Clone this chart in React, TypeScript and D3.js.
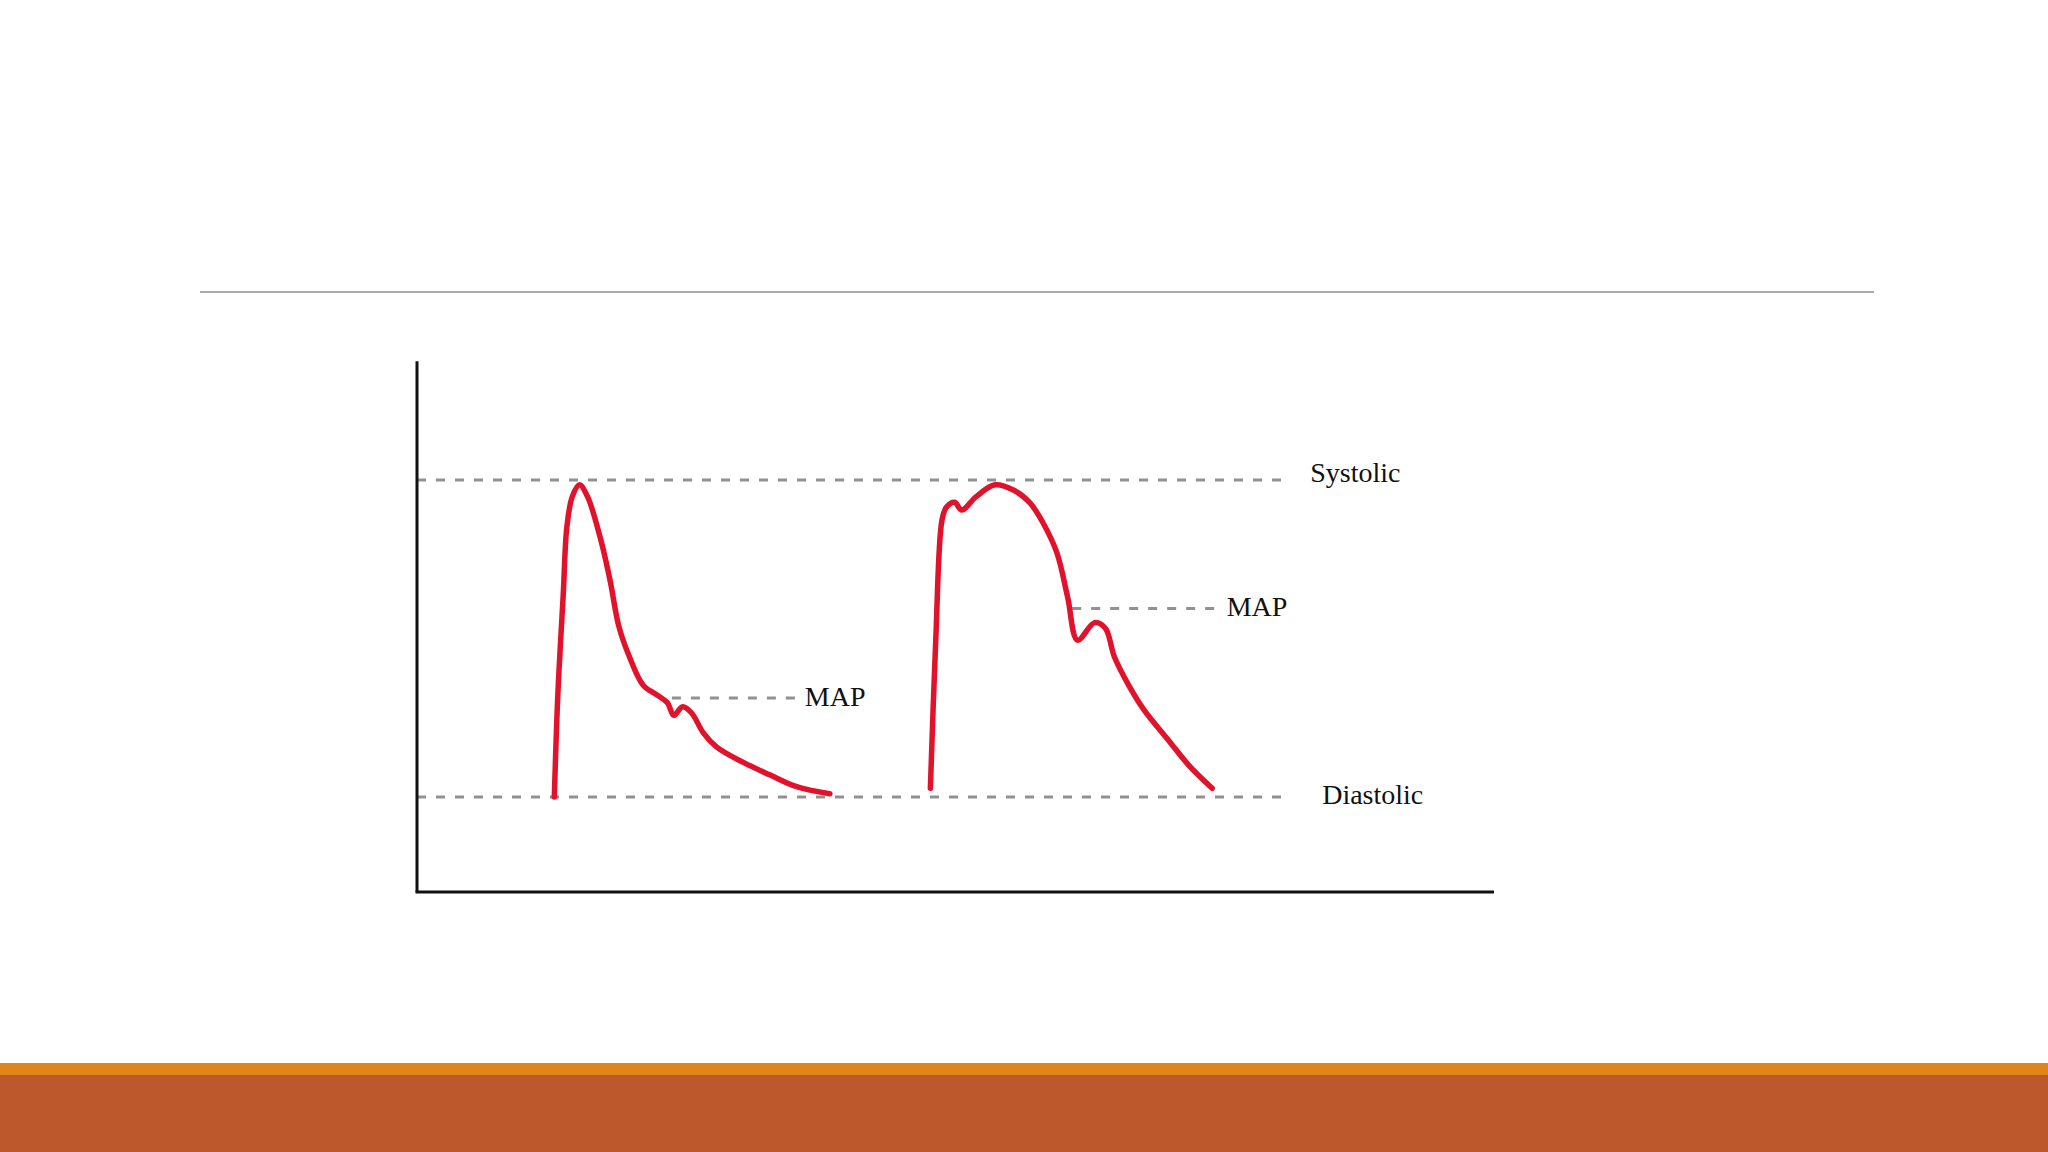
import React from "react";
import * as d3 from "d3";

type TPoint = { t: number; p: number };

// pressure waveforms, time in ms, pressure in mmHg
const pulseNormal: TPoint[] = [
  { t: 153, p: 80 },
  { t: 157, p: 93.1 },
  { t: 163, p: 105.7 },
  { t: 167, p: 114.1 },
  { t: 173, p: 117.9 },
  { t: 181, p: 119.4 },
  { t: 190, p: 117.9 },
  { t: 204, p: 112.8 },
  { t: 215, p: 107.4 },
  { t: 225, p: 101.5 },
  { t: 237, p: 97.6 },
  { t: 252, p: 94.1 },
  { t: 267, p: 92.9 },
  { t: 279, p: 91.9 },
  { t: 286, p: 90.3 },
  { t: 296, p: 91.4 },
  { t: 306, p: 90.6 },
  { t: 319, p: 88.1 },
  { t: 334, p: 86.3 },
  { t: 363, p: 84.4 },
  { t: 393, p: 82.8 },
  { t: 423, p: 81.3 },
  { t: 460, p: 80.4 },
];

const pulseWide: TPoint[] = [
  { t: 572, p: 81.1 },
  { t: 578, p: 99.8 },
  { t: 585, p: 115.0 },
  { t: 590, p: 116.6 },
  { t: 599, p: 117.2 },
  { t: 607, p: 116.2 },
  { t: 623, p: 117.9 },
  { t: 644, p: 119.4 },
  { t: 665, p: 118.7 },
  { t: 683, p: 117.1 },
  { t: 697, p: 114.7 },
  { t: 713, p: 110.8 },
  { t: 725, p: 105.2 },
  { t: 736, p: 99.8 },
  { t: 755, p: 102.0 },
  { t: 767, p: 101.3 },
  { t: 777, p: 97.7 },
  { t: 794, p: 93.9 },
  { t: 810, p: 91.0 },
  { t: 837, p: 87.2 },
  { t: 860, p: 84.0 },
  { t: 886, p: 81.1 },
];

const referenceLabels = ["Systolic", "Diastolic"];
const referenceValues = [120, 80];
const referenceEnds = [973, 964];

const mapLabels = ["MAP", "MAP"];
const mapValues = [92.5, 103.8];
const mapStarts = [284, 730];
const mapEnds = [421, 891];

const timeDomain = [0, 1200];
const pressureDomain = [68, 135];

const width = 2048;
const height = 1152;

const x = d3.scaleLinear().domain(timeDomain).range([417, 1494]);
const y = d3.scaleLinear().domain([80, 120]).range([797, 480]);

const line = d3
  .line<TPoint>()
  .x((d) => x(d.t))
  .y((d) => y(d.p))
  .curve(d3.curveCatmullRom.alpha(0.5));

const dash = "9 10";
const dashColor = "#919191";
const red = "#E1122B";
const font = "'Liberation Serif', 'Times New Roman', serif";

const App = () => {
  return (
    <svg
      width={width}
      height={height}
      style={{ position: "fixed", left: 0, top: 0, background: "#fff" }}
    >
      {/* slide header rule */}
      <line x1={200} x2={1874} y1={292} y2={292} stroke="#ababab" strokeWidth={2} />

      {/* reference lines */}
      {referenceValues.map((v, i) => (
        <g key={referenceLabels[i]}>
          <line
            x1={x(0)}
            x2={x(referenceEnds[i])}
            y1={y(v)}
            y2={y(v)}
            stroke={dashColor}
            strokeWidth={3}
            strokeDasharray={dash}
          />
          <text
            x={x(referenceEnds[i]) + (i === 0 ? 20 : 40)}
            y={y(v) + (i === 0 ? 2 : 7)}
            fontFamily={font}
            fontSize={28}
            fill="#111"
          >
            {referenceLabels[i]}
          </text>
        </g>
      ))}

      {mapValues.map((v, i) => (
        <g key={"map" + i}>
          <line
            x1={x(mapStarts[i])}
            x2={x(mapEnds[i])}
            y1={y(v)}
            y2={y(v)}
            stroke={dashColor}
            strokeWidth={3}
            strokeDasharray={dash}
          />
          <text
            x={x(mapEnds[i]) + 10}
            y={y(v) + 8}
            fontFamily={font}
            fontSize={28}
            fill="#111"
          >
            {mapLabels[i]}
          </text>
        </g>
      ))}

      {/* waveforms */}
      {[pulseNormal, pulseWide].map((d, i) => (
        <path
          key={i}
          d={line(d) || ""}
          fill="none"
          stroke={red}
          strokeWidth={5.5}
          strokeLinejoin="round"
          strokeLinecap="round"
        />
      ))}

      {/* axes */}
      <line
        x1={x(0)}
        x2={x(0)}
        y1={y(pressureDomain[1])}
        y2={y(pressureDomain[0])}
        stroke="#111"
        strokeWidth={3}
      />
      <line
        x1={x(0) - 1.5}
        x2={x(timeDomain[1])}
        y1={y(pressureDomain[0])}
        y2={y(pressureDomain[0])}
        stroke="#111"
        strokeWidth={3}
      />

      {/* footer band */}
      <rect x={0} y={1063} width={width} height={12} fill="#E0851A" />
      <rect x={0} y={1075} width={width} height={77} fill="#BC582C" />
    </svg>
  );
};

export default App;
